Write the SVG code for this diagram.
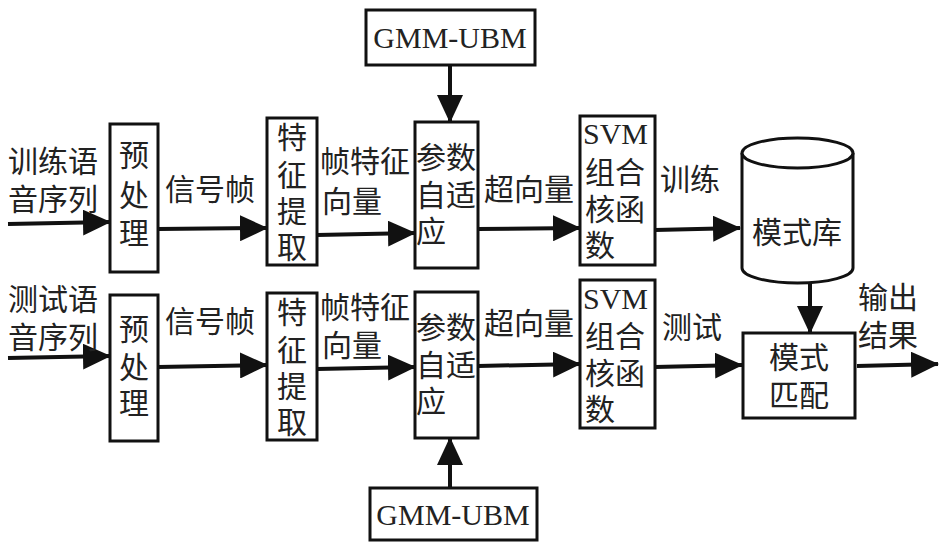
<svg xmlns="http://www.w3.org/2000/svg" width="946" height="546" viewBox="0 0 946 546">
<defs>
<marker id="a" markerWidth="10" markerHeight="10" refX="9" refY="5" orient="auto" markerUnits="userSpaceOnUse" viewBox="0 0 10 10"><path d="M0,0 L10,5 L0,10 z" fill="#111"/></marker>
<style>
.b{fill:#fff;stroke:#111;stroke-width:3}
.t{font-family:"Liberation Serif","Noto Sans CJK SC",serif;font-size:30px;fill:#222}
.c{stroke:#111;stroke-width:4;fill:none;marker-end:url(#a)}
</style>
</defs>
<marker id="h" markerWidth="28" markerHeight="26" refX="27" refY="13" orient="auto" markerUnits="userSpaceOnUse"><path d="M0,0 L28,13 L0,26 z" fill="#111"/></marker>
<style>.c{marker-end:url(#h)}</style>
<rect width="946" height="546" fill="#fff"/>
<g id="connectors">
<path class="c" d="M8,224 L110,222"/>
<path class="c" d="M158,229 L267,228"/>
<path class="c" d="M317,235 L415,233"/>
<path class="c" d="M478,229 L580,228"/>
<path class="c" d="M655,230 L740,228"/>
<path class="c" d="M450,65 L450,122"/>
<path class="c" d="M810,282 L810,333"/>
<path class="c" d="M8,358 L110,356"/>
<path class="c" d="M158,367 L267,365"/>
<path class="c" d="M317,369 L415,367"/>
<path class="c" d="M478,366 L580,364"/>
<path class="c" d="M655,367 L742,365"/>
<path class="c" d="M857,366 L938,364"/>
<path class="c" d="M450,488 L450,438"/>
</g>
<g id="labels" class="t">
<text x="8" y="172">训练语</text><text x="8" y="210">音序列</text>
<text x="8" y="310">测试语</text><text x="8" y="348">音序列</text>
<text x="165" y="200">信号帧</text><text x="165" y="332">信号帧</text>
<text x="320" y="172">帧特征</text><text x="322" y="212">向量</text>
<text x="320" y="318">帧特征</text><text x="322" y="356">向量</text>
<text x="484" y="200">超向量</text><text x="484" y="334">超向量</text>
<text x="660" y="190">训练</text><text x="662" y="338">测试</text>
<text x="858" y="308">输出</text><text x="858" y="346">结果</text>
</g>
<g id="gmm-top"><rect class="b" x="366" y="10" width="169" height="55"/><text class="t" x="450" y="48" text-anchor="middle">GMM-UBM</text></g>
<g id="gmm-bottom"><rect class="b" x="370" y="488" width="167" height="52"/><text class="t" x="453" y="525" text-anchor="middle">GMM-UBM</text></g>
<g id="pre1"><rect class="b" x="110" y="124" width="48" height="148"/><text class="t" x="134" y="166" text-anchor="middle">预</text><text class="t" x="134" y="206" text-anchor="middle">处</text><text class="t" x="134" y="244" text-anchor="middle">理</text></g>
<g id="pre2"><rect class="b" x="110" y="295" width="48" height="146"/><text class="t" x="134" y="340" text-anchor="middle">预</text><text class="t" x="134" y="378" text-anchor="middle">处</text><text class="t" x="134" y="414" text-anchor="middle">理</text></g>
<g id="feat1"><rect class="b" x="267" y="118" width="50" height="147"/><text class="t" x="292" y="148" text-anchor="middle">特</text><text class="t" x="292" y="186" text-anchor="middle">征</text><text class="t" x="292" y="222" text-anchor="middle">提</text><text class="t" x="292" y="258" text-anchor="middle">取</text></g>
<g id="feat2"><rect class="b" x="267" y="293" width="50" height="147"/><text class="t" x="292" y="323" text-anchor="middle">特</text><text class="t" x="292" y="361" text-anchor="middle">征</text><text class="t" x="292" y="397" text-anchor="middle">提</text><text class="t" x="292" y="433" text-anchor="middle">取</text></g>
<g id="adapt1"><rect class="b" x="415" y="122" width="63" height="146"/><text class="t" x="416" y="168">参数</text><text class="t" x="416" y="206">自适</text><text class="t" x="416" y="242">应</text></g>
<g id="adapt2"><rect class="b" x="415" y="292" width="63" height="146"/><text class="t" x="416" y="338">参数</text><text class="t" x="416" y="376">自适</text><text class="t" x="416" y="412">应</text></g>
<g id="svm1"><rect class="b" x="580" y="116" width="75" height="149"/><text class="t" x="583" y="144">SVM</text><text class="t" x="585" y="183">组合</text><text class="t" x="585" y="220">核函</text><text class="t" x="585" y="256">数</text></g>
<g id="svm2"><rect class="b" x="580" y="280" width="75" height="148"/><text class="t" x="583" y="309">SVM</text><text class="t" x="585" y="347">组合</text><text class="t" x="585" y="384">核函</text><text class="t" x="585" y="420">数</text></g>
<g id="db"><path class="b" d="M742,153 L742,268 A55.5,15 0 0 0 853,268 L853,153"/><ellipse class="b" cx="797.5" cy="153" rx="55.5" ry="15"/><text class="t" x="797" y="243" text-anchor="middle">模式库</text></g>
<g id="match"><rect class="b" x="743" y="333" width="112" height="85"/><text class="t" x="799" y="368" text-anchor="middle">模式</text><text class="t" x="799" y="406" text-anchor="middle">匹配</text></g>
</svg>
